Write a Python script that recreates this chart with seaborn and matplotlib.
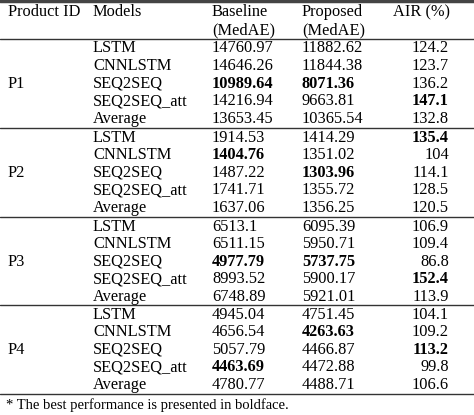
import matplotlib
matplotlib.use("Agg")
import matplotlib.pyplot as plt
import seaborn as sns

sns.set_theme(style="white")
plt.rcParams['font.family'] = ['Liberation Serif', 'DejaVu Serif']

products = ["P1", "P2", "P3", "P4"]
models = ["LSTM", "CNNLSTM", "SEQ2SEQ", "SEQ2SEQ_att", "Average"]
baseline = [
    ["14760.97", "14646.26", "10989.64", "14216.94", "13653.45"],
    ["1914.53", "1404.76", "1487.22", "1741.71", "1637.06"],
    ["6513.1", "6511.15", "4977.79", "8993.52", "6748.89"],
    ["4945.04", "4656.54", "5057.79", "4463.69", "4780.77"],
]
proposed = [
    ["11882.62", "11844.38", "8071.36", "9663.81", "10365.54"],
    ["1414.29", "1351.02", "1303.96", "1355.72", "1356.25"],
    ["6095.39", "5950.71", "5737.75", "5900.17", "5921.01"],
    ["4751.45", "4263.63", "4466.87", "4472.88", "4488.71"],
]
air = [
    ["124.2", "123.7", "136.2", "147.1", "132.8"],
    ["135.4", "104", "114.1", "128.5", "120.5"],
    ["106.9", "109.4", "86.8", "152.4", "113.9"],
    ["104.1", "109.2", "113.2", "99.8", "106.6"],
]
bold_base = [2, 1, 2, 3]
bold_prop = [2, 2, 2, 1]
bold_air = [3, 0, 3, 2]

W, H = 474, 415
fig = plt.figure(figsize=(W / 100, H / 100), dpi=100)
ax = fig.add_axes([0, 0, 1, 1])
ax.set_xlim(0, W)
ax.set_ylim(H, 0)
ax.axis("off")
fs = 11.8

def t(x, y, s, ha="left", bold=False):
    ax.text(x, y, s, ha=ha, va="center", fontsize=fs, color="black",
            fontweight="bold" if bold else "normal")

ax.plot([0, W], [1.5, 1.5], color="#444444", lw=2.5)
t(8, 12, "Product ID"); t(93, 12, "Models")
t(212, 12, "Baseline"); t(212, 30, "(MedAE)")
t(302, 12, "Proposed"); t(302, 30, "(MedAE)")
t(450, 12, "AIR (%)", ha="right")
lines = [39, 128, 217, 305, 394]
for yl in lines:
    ax.plot([0, W], [yl, yl], color="#333333", lw=1.0)

row_h = 17.6
for p in range(4):
    y0 = lines[p] + 9.5
    t(8, y0 + 2 * row_h, products[p])
    for r in range(5):
        y = y0 + r * row_h
        t(93, y, models[r])
        t(212, y, baseline[p][r], bold=(r == bold_base[p]))
        t(302, y, proposed[p][r], bold=(r == bold_prop[p]))
        t(449, y, air[p][r], ha="right", bold=(r == bold_air[p]))

ax.text(6, 405, "* The best performance is presented in boldface.", ha="left",
        va="center", fontsize=10.5, color="black")
fig.savefig("out.png", dpi=100)
